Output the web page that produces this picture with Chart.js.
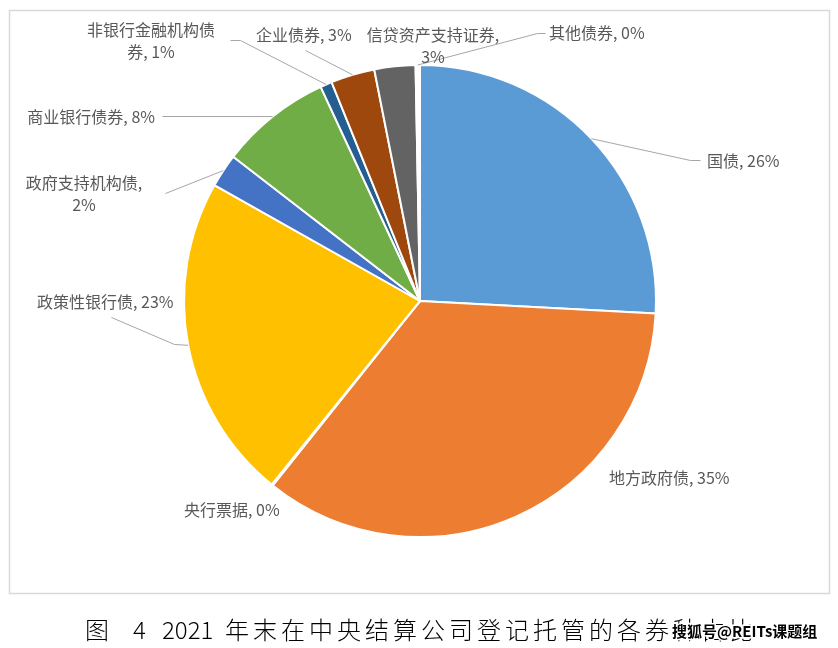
<!DOCTYPE html>
<html><head><meta charset="utf-8">
<script src="https://cdn.jsdelivr.net/npm/chart.js@4/dist/chart.umd.min.js"></script>
<style>html,body{margin:0;padding:0;background:#fff}#wrap{width:838px;height:648px;position:relative}</style>
</head><body><div id="wrap"><canvas id="c" width="838" height="648"></canvas></div>
<script>
// ---- data ----
const categories = ['国债','地方政府债','央行票据','政策性银行债','政府支持机构债','商业银行债券','非银行金融机构债券','企业债券','信贷资产支持证券','其他债券'];
const shares = [25.8, 34.8, 0.1, 22.3, 2.3, 7.6, 0.8, 3.0, 2.8, 0.3];
const percentLabels = ['26%','35%','0%','23%','2%','8%','1%','3%','3%','0%'];
const sliceColors = ['#5B9BD5','#ED7D31','#A5A5A5','#FFC000','#4472C4','#70AD47','#255E91','#9E480E','#636363','#FFFFFF'];
const titleParts = ['图','4','2021','年末在中央结算公司登记托管的各券种占比'];
const watermarkText = '搜狐号@REITs课题组';

// ---- layout (positions only) ----
const titleX = [85, 133, 162, 225];
const labelLayout = [
  {x:707, y:161, align:'left',  split:0, leader:[[690,160],[700,160]]},
  {x:609, y:478, align:'left',  split:0, leader:null},
  {x:184, y:510, align:'left',  split:0, leader:null},
  {x:37,  y:302, align:'left',  split:0, leader:[[174,344],[111,317]]},
  {x:84,  y:183, align:'center',split:8, leader:[[165,193]]},
  {x:155, y:117, align:'right', split:0, leader:[[162,116]]},
  {x:151, y:30,  align:'center',split:8, leader:[[240,40],[230,40]]},
  {x:256, y:35,  align:'left',  split:0, leader:[[305,50]]},
  {x:433, y:35,  align:'center',split:9, leader:null},
  {x:549, y:33,  align:'left',  split:0, leader:[[537,33],[545,33]]}
];

const LABEL_FONT = '16px "Noto Sans CJK SC", "Noto Sans", sans-serif';

const decor = {
  id:'decor',
  beforeDraw(chart){
    const ctx = chart.ctx;
    ctx.save();
    ctx.strokeStyle = '#D9D9D9';
    ctx.lineWidth = 1.5;
    ctx.strokeRect(9.5, 10.5, 820, 583);
    ctx.restore();
  },
  afterDraw(chart){
    const ctx = chart.ctx;
    const meta = chart.getDatasetMeta(0);
    ctx.save();
    // leader lines
    ctx.strokeStyle = '#A6A6A6';
    ctx.lineWidth = 1;
    labelLayout.forEach((L,i)=>{
      if(!L.leader) return;
      const a = meta.data[i];
      const mid = (a.startAngle + a.endAngle)/2;
      const px = a.x + Math.cos(mid)*a.outerRadius;
      const py = a.y + Math.sin(mid)*a.outerRadius;
      ctx.beginPath();
      ctx.moveTo(px,py);
      L.leader.forEach(p=>ctx.lineTo(p[0]+0.5,p[1]+0.5));
      ctx.stroke();
    });
    // labels
    ctx.font = LABEL_FONT;
    ctx.fillStyle = '#595959';
    ctx.textBaseline = 'middle';
    labelLayout.forEach((L,i)=>{
      const full = categories[i] + ', ' + percentLabels[i];
      const lines = L.split ? [full.slice(0,L.split).trim(), full.slice(L.split).trim()] : [full];
      ctx.textAlign = L.align;
      lines.forEach((t,k)=>ctx.fillText(t, L.x, L.y + k*22));
    });
    // title
    ctx.font = '300 24px "Noto Sans CJK SC", serif';
    ctx.fillStyle = '#000';
    ctx.textAlign = 'left';
    titleParts.forEach((t,k)=>{
      ctx.letterSpacing = (k === 3) ? '4px' : '0px';
      ctx.fillText(t, titleX[k], 630);
    });
    // watermark
    ctx.letterSpacing = '0px';
    ctx.font = 'bold 15px "Noto Sans CJK SC", sans-serif';
    ctx.lineWidth = 3;
    ctx.strokeStyle = '#fff';
    ctx.strokeText(watermarkText, 672, 631);
    ctx.fillStyle = '#000';
    ctx.fillText(watermarkText, 672, 631);
    ctx.restore();
  }
};

new Chart(document.getElementById('c'), {
  type:'pie',
  data:{
    labels: categories,
    datasets:[{data: shares, backgroundColor: sliceColors, borderColor:'#FFFFFF', borderWidth:2}]
  },
  options:{
    responsive:false,
    animation:false,
    layout:{padding:{left:150, right:148, top:64, bottom:110}},
    plugins:{legend:{display:false}, tooltip:{enabled:false}}
  },
  plugins:[decor]
});
</script>
</body></html>
